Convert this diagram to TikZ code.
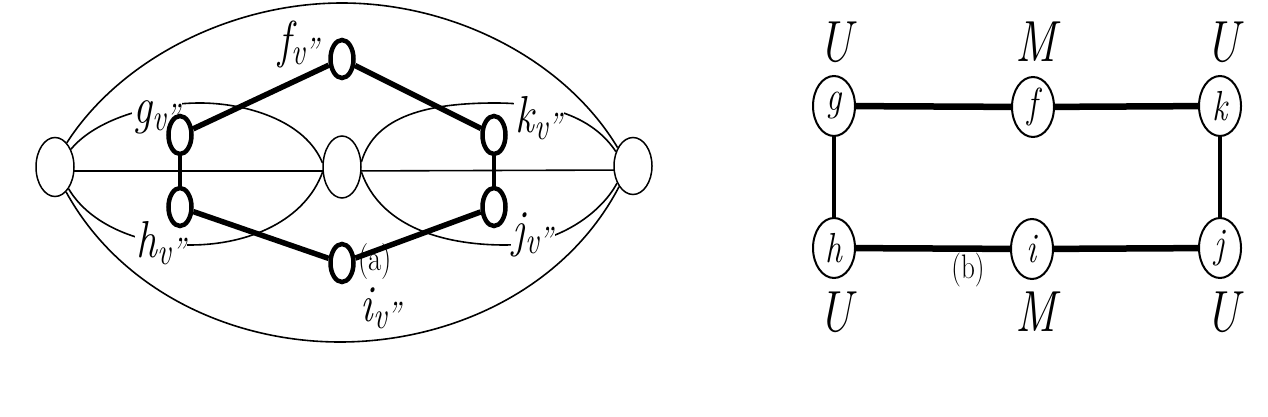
\documentclass[tikz,border=0pt]{standalone}
\usepackage{graphicx}
\usetikzlibrary{shapes.geometric}
\pgfdeclarelayer{bg}
\pgfsetlayers{bg,main}
\newcommand{\sqz}[1]{\scalebox{0.8}[1]{#1}}
\newcommand{\vlab}[1]{\sqz{\fontsize{52}{52}\selectfont\itshape #1\raisebox{-7pt}{\fontsize{38}{38}\selectfont v"}}}
\newcommand{\biglab}[1]{\sqz{\fontsize{58}{58}\selectfont\itshape #1}}
\newcommand{\inl}[1]{\sqz{\fontsize{42}{42}\selectfont\itshape #1}}
\begin{document}
\begin{tikzpicture}[x=1pt,y=-1pt,
  bignode/.style={ellipse, draw, line width=1.5pt, fill=white, inner sep=0pt, minimum width=38pt, minimum height=59pt},
  smallnode/.style={ellipse, draw, line width=4.5pt, fill=white, inner sep=0pt, minimum width=23pt, minimum height=38pt},
  rnode/.style={ellipse, draw, line width=2pt, fill=white, inner sep=0pt, minimum width=42pt, minimum height=60pt},
  thinedge/.style={line width=1.6pt},
  thickedge/.style={line width=5.5pt},
  vedge/.style={line width=4pt},
  redge/.style={line width=6.5pt},
  lbl/.style={inner sep=0pt},
  lblw/.style={fill=white, inner sep=1.5pt}]
\useasboundingbox (0,0) rectangle (1268,417);
% ---------- panel (a) ----------
\node[bignode] (L) at (55,167) {};
\node[bignode, minimum height=62pt] (M) at (342,167) {};
\node[bignode, minimum height=57pt] (R) at (633,166) {};
\node[smallnode] (f) at (342,59) {};
\node[smallnode] (g) at (180,135) {};
\node[smallnode] (h) at (180,207) {};
\node[smallnode] (k) at (494,135) {};
\node[smallnode] (j) at (494,207) {};
\node[smallnode] (i) at (342,263) {};
\begin{pgfonlayer}{bg}
  \draw[thinedge] ([yshift=-4pt]L.center) -- ([yshift=-4pt]M.center) -- ([yshift=-4pt]R.center);
  % outer curves
  \draw[thinedge] (L.64) .. controls (120,60) and (230,3) .. (342,3) .. controls (454,3) and (565,60) .. (R.130);
  \draw[thinedge] (L.-66) .. controls (120,290) and (230,342) .. (340,342) .. controls (450,342) and (565,290) .. (R.-124);
  % left inner ellipse
  \draw[thinedge] (L.48) .. controls (95,120) and (150,103) .. (200,103) .. controls (245,103) and (305,120) .. (M.168);
  \draw[thinedge] (L.-58) .. controls (90,225) and (140,245) .. (190,245) .. controls (250,245) and (305,220) .. (M.195);
  % right inner ellipse
  \draw[thinedge] (M.15) .. controls (375,115) and (430,103) .. (495,103) .. controls (555,103) and (595,120) .. (R.140);
  \draw[thinedge] (M.-15) .. controls (380,225) and (440,245) .. (505,245) .. controls (555,245) and (600,215) .. (R.-133);
  % labels on curves
  \node[lblw] (lg) at (157,117) {\vlab{g}};
  \node[lblw] (lh) at (161,243) {\vlab{h}};
  \node[lblw] (lk) at (539,118) {\vlab{k}};
  \node[lblw] (lj) at (533,235) {\vlab{j}};
\end{pgfonlayer}
\node[lbl] (lf) at (299,45) {\vlab{f}};
\node[lbl] (li) at (381,308) {\vlab{i}};
\node[lbl] (capa) at (375,262) {\sqz{\fontsize{36}{36}\selectfont (a)}};
\draw[thickedge] (g) -- (f);
\draw[thickedge] (f) -- (k);
\draw[thickedge] (h) -- (i);
\draw[thickedge] (i) -- (j);
\draw[vedge] (g) -- (h);
\draw[vedge] (k) -- (j);
% ---------- panel (b) ----------
\node[rnode] (G) at (834,106) {\inl{g}};
\node[rnode] (F) at (1033,107) {\inl{f}};
\node[rnode] (K) at (1220,106) {\inl{k}};
\node[rnode] (H) at (834,248) {\inl{h}};
\node[rnode] (I) at (1032,249) {\inl{i}};
\node[rnode] (J) at (1220,248) {\inl{j}};
\draw[redge] (G) -- (F);
\draw[redge] (F) -- (K);
\draw[redge] (H) -- (I);
\draw[redge] (I) -- (J);
\draw[vedge] (G) -- (H);
\draw[vedge] (K) -- (J);
\node[lbl] (uG) at (835,42) {\biglab{U}};
\node[lbl] (uF) at (1036,42) {\biglab{M}};
\node[lbl] (uK) at (1222,42) {\biglab{U}};
\node[lbl] (uH) at (835,312) {\biglab{U}};
\node[lbl] (uI) at (1036,312) {\biglab{M}};
\node[lbl] (uJ) at (1222,312) {\biglab{U}};
\node[lbl] (capb) at (968,270) {\sqz{\fontsize{34}{34}\selectfont (b)}};
\end{tikzpicture}
\end{document}
